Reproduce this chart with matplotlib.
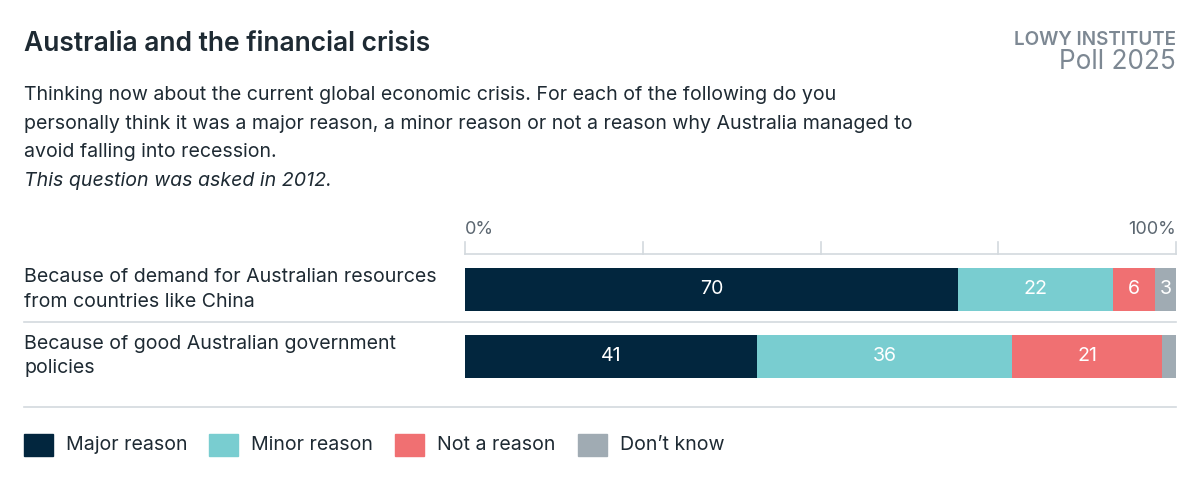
import matplotlib
matplotlib.use("Agg")
import matplotlib.pyplot as plt
from matplotlib.patches import Rectangle
from matplotlib.lines import Line2D

categories = ["Because of demand for Australian resources\nfrom countries like China",
              "Because of good Australian government\npolicies"]
series_names = ["Major reason", "Minor reason", "Not a reason", "Don\u2019t know"]
major = [70, 41]
minor = [22, 36]
not_reason = [6, 21]
dont_know = [3, 2]
show_label = [[True, True, True, True], [True, True, True, False]]
colors = ["#02263e", "#79cdd0", "#f07072", "#a0abb3"]

W, H = 1200, 483
plt.rcParams['font.family'] = ['Inter', 'DejaVu Sans']
fig = plt.figure(figsize=(W / 100, H / 100), dpi=100)

def fx(px): return px / W
def fy(py): return 1 - py / H

text_col = "#1e2a33"
gray = "#5b6670"
line_col = "#d3d9de"
FS = 14.1

fig.text(fx(24), fy(44), "Australia and the financial crisis", fontsize=19, fontweight="semibold",
         color=text_col, va="center", ha="left")
fig.text(fx(1176), fy(40), "LOWY INSTITUTE", fontsize=13.6, fontweight="semibold", color="#7d8893",
         va="center", ha="right")
fig.text(fx(1176), fy(62), "Poll 2025", fontsize=18.8, fontweight="normal", color="#7d8893",
         va="center", ha="right")

sub = ["Thinking now about the current global economic crisis. For each of the following do you",
       "personally think it was a major reason, a minor reason or not a reason why Australia managed to",
       "avoid falling into recession."]
for i, s in enumerate(sub):
    fig.text(fx(24), fy(95 + i * 28.7), s, fontsize=FS, color=text_col, va="center", ha="left")
fig.text(fx(24), fy(181), "This question was asked in 2012.", fontsize=FS, color=text_col,
         va="center", ha="left", style="italic")

# axes
x0, x1 = 465, 1176
top, bot = 255, 389
ax = fig.add_axes([fx(x0), fy(bot), fx(x1 - x0), (bot - top) / H])
spacing = 66.5
ylim_top = -(289.5 - top) / spacing
ylim_bot = ylim_top + (bot - top) / spacing
ax.set_xlim(0, 100)
ax.set_ylim(ylim_bot, ylim_top)
ax.axis("off")

data = [major, minor, not_reason, dont_know]
for i in range(len(categories)):
    total = sum(d[i] for d in data)
    left = 0
    for j, d in enumerate(data):
        w = d[i] / total * 100
        ax.barh(i, w, left=left, height=43 / spacing, color=colors[j], edgecolor="none")
        if show_label[i][j]:
            ax.text(left + w / 2, i, str(d[i]), color="white", fontsize=FS, ha="center", va="center")
        left += w
    fig.text(fx(24), fy(289.5 + i * spacing), categories[i], fontsize=FS, color=text_col,
             va="center", ha="left", linespacing=1.45)

# separators
fig.add_artist(Line2D([fx(24), fx(1176)], [fy(322), fy(322)], color=line_col, lw=1.2))
fig.add_artist(Line2D([fx(24), fx(1176)], [fy(407), fy(407)], color=line_col, lw=1.2))

# ticks
fig.add_artist(Line2D([fx(x0), fx(x1)], [fy(254), fy(254)], color=line_col, lw=1.2))
for t in [0, 25, 50, 75, 100]:
    px = x0 + t / 100 * (x1 - x0)
    fig.add_artist(Line2D([fx(px), fx(px)], [fy(242), fy(254)], color=line_col, lw=1.2))
fig.text(fx(x0), fy(230), "0%", fontsize=13, color=gray, ha="left", va="center")
fig.text(fx(x1), fy(230), "100%", fontsize=13, color=gray, ha="right", va="center")

# legend
leg_x = [24, 209, 395, 578]
for j, name in enumerate(series_names):
    fig.add_artist(Rectangle((fx(leg_x[j]), fy(456)), fx(29), 22 / H, color=colors[j],
                             transform=fig.transFigure))
    fig.text(fx(leg_x[j] + 42), fy(445.5), name, fontsize=FS, color=text_col, va="center", ha="left")

fig.savefig("out.png", dpi=100, facecolor="white")
